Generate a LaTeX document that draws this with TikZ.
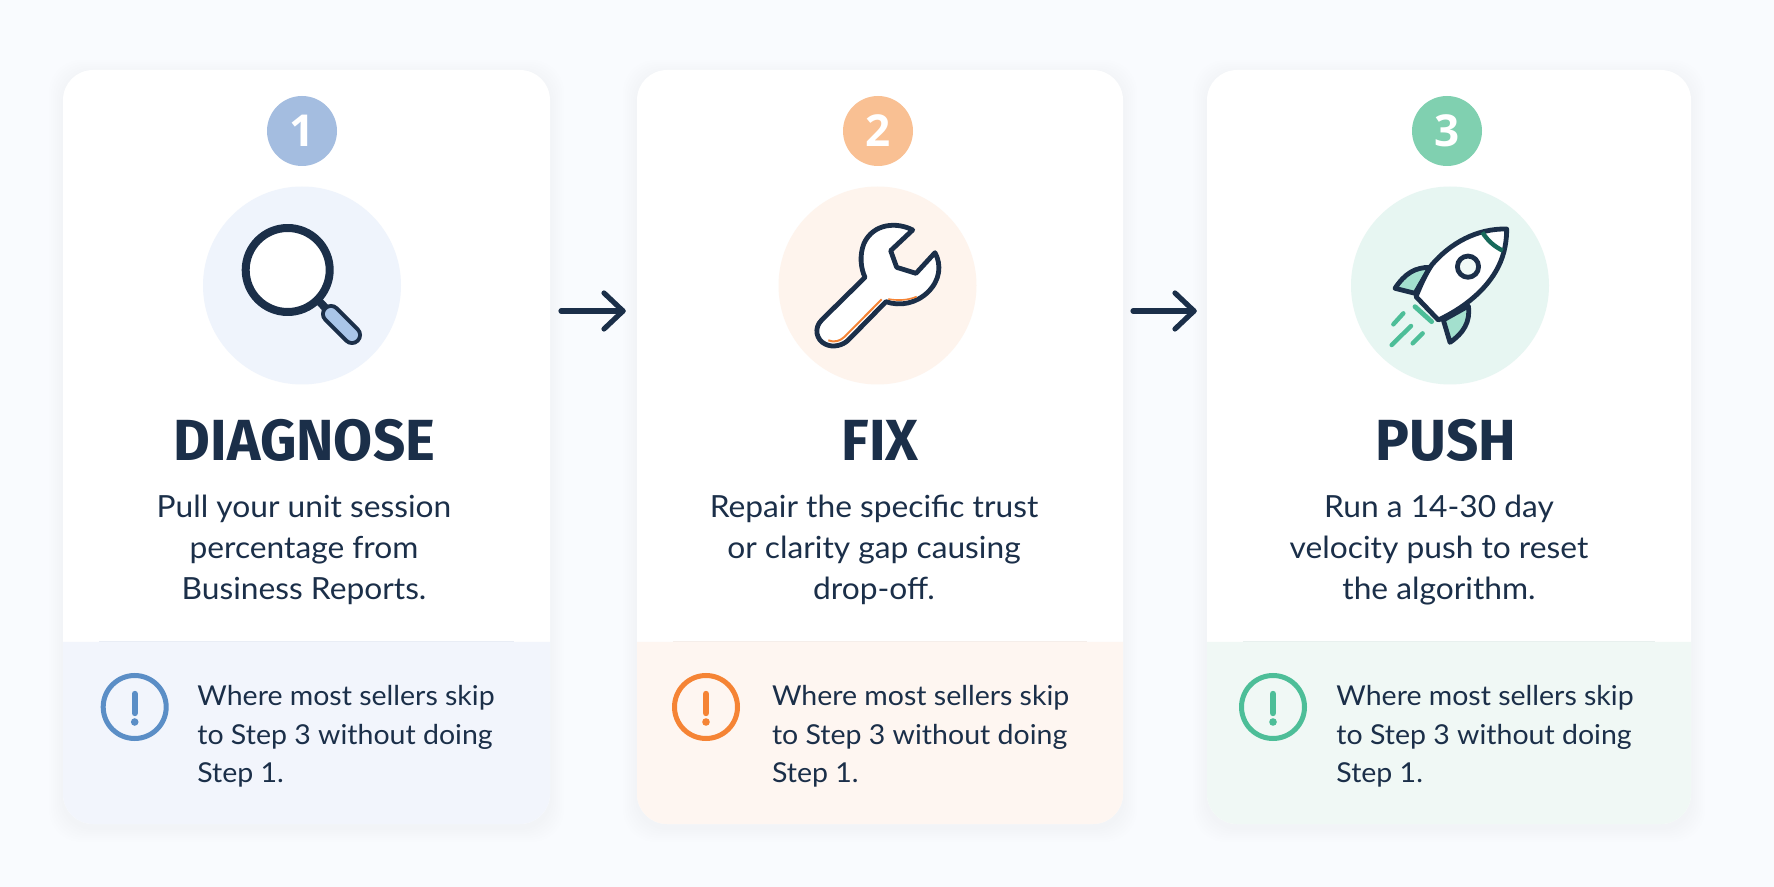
\documentclass[tikz,border=0pt]{standalone}
\usepackage{fontspec}
\setmainfont[FakeStretch=1.04]{Lato}
\newfontfamily\badgefont{Open Sans}
\newfontfamily\titlefont[FakeStretch=0.975]{Fira Sans}
\definecolor{navy}{HTML}{1B2F49}
\definecolor{pagebg}{HTML}{F9FBFE}
\definecolor{footblue}{HTML}{F2F5FC}
\definecolor{footorange}{HTML}{FEF6F1}
\definecolor{footgreen}{HTML}{F0F8F5}
\definecolor{tintblue}{HTML}{EFF4FC}
\definecolor{tintorange}{HTML}{FEF4ED}
\definecolor{tintgreen}{HTML}{E7F6F2}
\definecolor{numblue}{HTML}{A4BDE0}
\definecolor{numorange}{HTML}{F9C093}
\definecolor{numgreen}{HTML}{80D0B0}
\definecolor{ringblue}{HTML}{5B8EC6}
\definecolor{ringorange}{HTML}{F58435}
\definecolor{ringgreen}{HTML}{4DBE98}
\definecolor{handleblue}{HTML}{A9C5E8}
\definecolor{finfill}{HTML}{A3E0CE}
\definecolor{bandgreen}{HTML}{17695A}
\tikzset{
   stepcard/.style = {fill=white, rounded corners=15pt, inner sep=0pt},
   badge/.style    = {circle, inner sep=0pt, minimum size=35pt, text=white,
                      font=\badgefont\fontsize{22}{22}\selectfont\bfseries},
   iconbg/.style   = {circle, inner sep=0pt, minimum size=99pt},
   steptitle/.style = {text=navy, inner sep=0pt, font=\titlefont\fontsize{29}{29}\selectfont\bfseries},
   stepbody/.style = {text=navy, inner sep=0pt, align=center,
                      font=\fontsize{15.25}{20.5}\selectfont},
   warnbody/.style = {text=navy, inner sep=0pt, align=left, anchor=west,
                      font=\fontsize{13.7}{19.3}\selectfont},
   steparrow/.style = {draw=navy, line width=2.6pt, line cap=round, line join=round},
   iconline/.style = {draw=navy, line width=2.4pt, line cap=round, line join=round}
}
\newcommand{\stepcardbox}[6]{%
   % name, left, right, footer colour, warning x, ring colour
   \pgfmathsetmacro{\cleft}{#2}
   \pgfmathsetmacro{\cright}{#3}
   \pgfmathsetmacro{\cmid}{(#2+#3)/2}
   \pgfmathsetmacro{\cwd}{(#3-#2)/2}
   \foreach \g in {1,...,7} {
      \fill[navy, opacity=0.004, rounded corners=16pt]
         (\cleft-2*\g,70+4-2*\g) rectangle (\cright+2*\g,824+4+2*\g);
   }
   \node[stepcard, minimum width=\cwd pt, minimum height=377pt] (#1) at (\cmid,447) {};
   \fill[#4] (\cleft,642) -- (\cright,642) [rounded corners=15pt] -- (\cright,824)
      -- (\cleft,824) [sharp corners] -- (\cleft,642) -- cycle;
   \draw[#4!96!navy, line width=0.5pt] (\cleft+36,642) -- (\cright-36,642);
   \node[circle, inner sep=0pt, minimum size=31.5pt, draw=#6, line width=2.5pt] (#1warn) at (#5,707) {};
   \draw[#6, line width=3.2pt, line cap=round] (#5,694) -- (#5,713);
   \fill[#6] (#5,722) circle (1.9pt);
}
\begin{document}
\begin{tikzpicture}[x=0.5pt, y=-0.5pt]
   \useasboundingbox (0,0) rectangle (1774,887);
   \fill[pagebg] (0,0) rectangle (1774,887);

   \stepcardbox{cardone}{63}{550}{footblue}{134.7}{ringblue}
   \stepcardbox{cardtwo}{637}{1123}{footorange}{706}{ringorange}
   \stepcardbox{cardthree}{1207}{1691}{footgreen}{1273}{ringgreen}

   % number badges
   \node[badge, fill=numblue] (numone) at (302,131) {1};
   \node[badge, fill=numorange] (numtwo) at (878,131) {2};
   \node[badge, fill=numgreen] (numthree) at (1447,131) {3};

   % icon discs
   \node[iconbg, fill=tintblue] (discone) at (302,285.5) {};
   \node[iconbg, fill=tintorange] (disctwo) at (877.5,285.5) {};
   \node[iconbg, fill=tintgreen] (discthree) at (1450,285.5) {};

   % magnifier
   \draw[navy, line width=4pt, line cap=round] (318,300) -- (332,315);
   \draw[navy, line width=10pt, line cap=round] (331,314) -- (352,335);
   \draw[handleblue, line width=6pt, line cap=round] (331,314) -- (352,335);
   \draw[iconline, fill=white, line width=4pt] (287.7,270) circle (21pt);

   % wrench
   \begin{scope}[shift={(760,180)}, x=0.16667pt, y=-0.16667pt]
      \draw[iconline, fill=white] (458,150) .. controls (410,125) and (340,130) .. (312,190)
         .. controls (298,225) and (302,265) .. (315,292)
         -- (185,420) .. controls (160,445) and (170,480) .. (195,492)
         .. controls (220,505) and (250,495) .. (265,480)
         -- (378,365) .. controls (420,380) and (470,370) .. (505,335)
         .. controls (540,300) and (545,255) .. (525,218)
         -- (468,280) -- (410,262) -- (392,212) -- cycle;
      \draw[ringorange, line width=1pt] (205,481) .. controls (222,488) and (240,484) .. (254,470)
         -- (365,358);
      \draw[ringorange, line width=0.8pt] (385,357) .. controls (410,362) and (440,362) .. (470,350);
   \end{scope}

   % rocket
   \begin{scope}[shift={(1340,180)}, x=0.16667pt, y=-0.16667pt]
      \draw[ringgreen, line width=2.2pt, line cap=round] (190,400) -- (160,433);
      \draw[ringgreen, line width=2.2pt, line cap=round] (213,438) -- (155,495);
      \draw[ringgreen, line width=2.2pt, line cap=round] (248,460) -- (218,490);
      \draw[ringgreen, line width=2.4pt, line cap=round] (225,380) -- (275,425);
      \draw[iconline, fill=finfill] (270,262) .. controls (225,262) and (195,280) .. (165,325) -- (225,340) -- cycle;
      \draw[iconline, fill=finfill] (385,378) .. controls (392,425) and (370,460) .. (330,487) -- (310,420) -- cycle;
      \draw[iconline, fill=white] (500,147) .. controls (410,145) and (330,190) .. (275,255)
         .. controls (255,285) and (240,320) .. (228,350) -- (295,420)
         .. controls (370,385) and (440,330) .. (475,260)
         .. controls (495,220) and (500,180) .. (500,147) -- cycle;
      \draw[bandgreen, line width=2.2pt] (427,157) .. controls (445,185) and (465,200) .. (488,212);
      \draw[iconline, fill=tintgreen!60!white] (384,260) circle (5.3pt);
   \end{scope}

   % titles
   \node[steptitle] (titleone) at (304.5,440) {DIAGNOSE};
   \node[steptitle] (titletwo) at (880,440) {FIX};
   \node[steptitle] (titlethree) at (1446,440) {PUSH};

   % texts
   \node[stepbody] (bodyone) at (304,550) {Pull your unit session\\percentage from\\Business Reports.};
   \node[stepbody] (bodytwo) at (874,550) {Repair the specific trust\\or clarity gap causing\\drop-off.};
   \node[stepbody] (bodythree) at (1439,550) {Run a 14-30 day\\velocity push to reset\\the algorithm.};

   \node[warnbody] (warnone) at (197,736.5) {Where most sellers skip\\to Step 3 without doing\\Step 1.};
   \node[warnbody] (warntwo) at (771.6,736.5) {Where most sellers skip\\to Step 3 without doing\\Step 1.};
   \node[warnbody] (warnthree) at (1336,736.5) {Where most sellers skip\\to Step 3 without doing\\Step 1.};

   % arrows between cards
   \coordinate (arrowonestart) at (561,311);
   \coordinate (arrowoneend) at (623,311);
   \coordinate (arrowtwostart) at (1133,311);
   \coordinate (arrowtwoend) at (1194,311);
   \draw[steparrow] (arrowonestart) -- (arrowoneend);
   \draw[steparrow] ([shift={(-19,-18)}]arrowoneend) -- (arrowoneend) -- ([shift={(-19,18)}]arrowoneend);
   \draw[steparrow] (arrowtwostart) -- (arrowtwoend);
   \draw[steparrow] ([shift={(-19,-18)}]arrowtwoend) -- (arrowtwoend) -- ([shift={(-19,18)}]arrowtwoend);
\end{tikzpicture}
\end{document}
